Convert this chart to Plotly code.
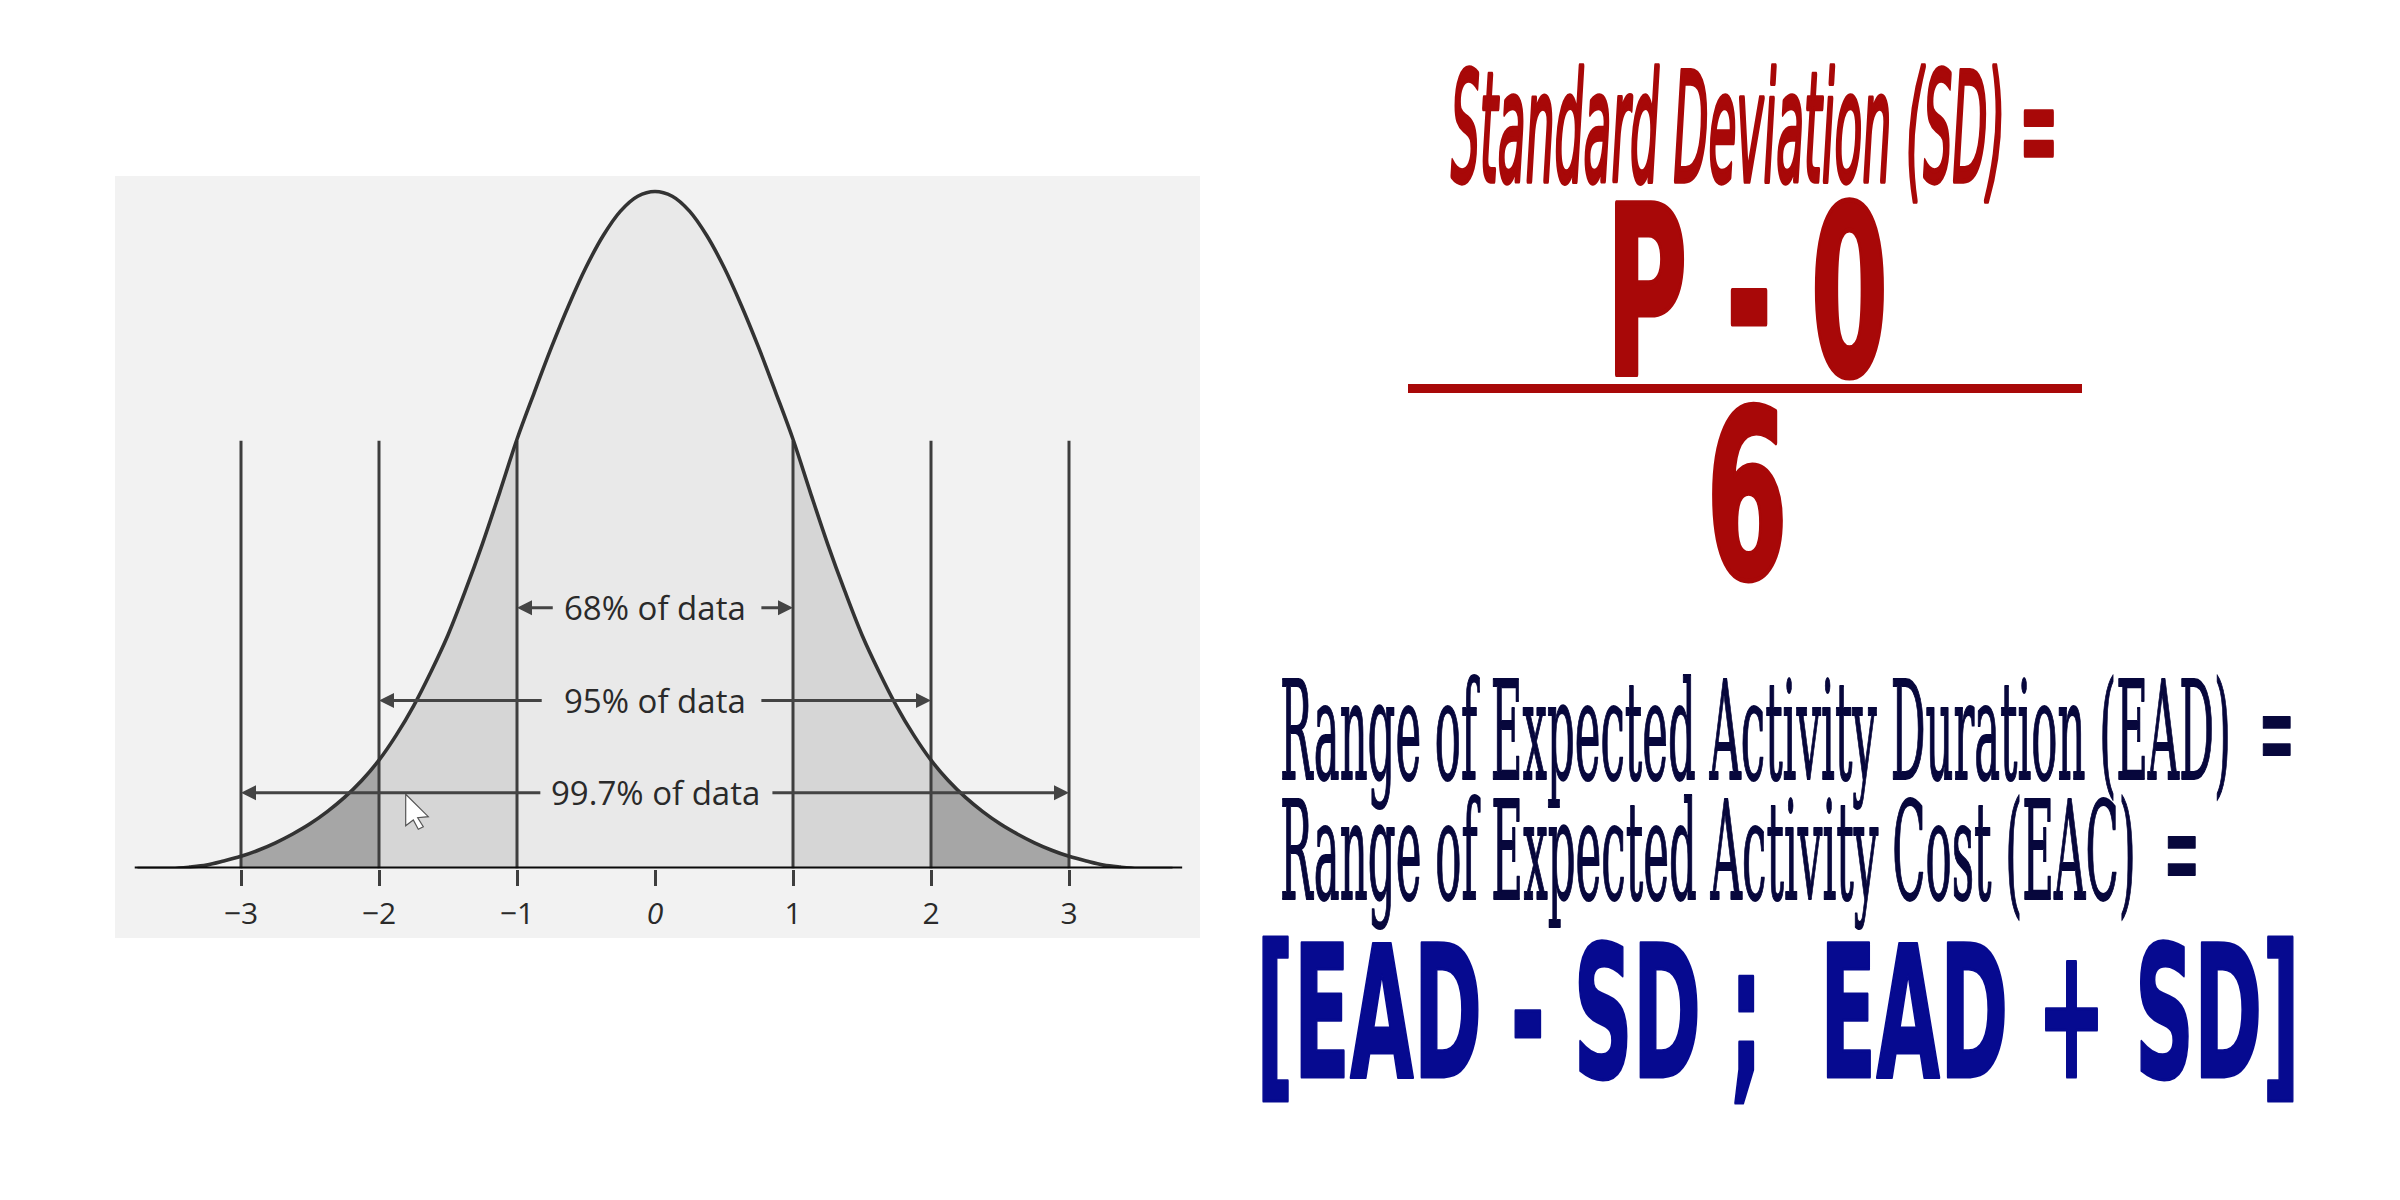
import json
import plotly.graph_objects as go

W, H = 2400, 1200

# Curve (height relative to the peak)
curve_x = [-3.75, -3.625, -3.5, -3.375, -3.25, -3.125, -3, -2.875, -2.75, -2.625, -2.5, -2.375, -2.25, -2.125, -2,
           -1.875, -1.75, -1.625, -1.5, -1.375, -1.25, -1.125, -1, -0.875, -0.75, -0.625, -0.5, -0.375, -0.25, -0.125, 0,
           0.125, 0.25, 0.375, 0.5, 0.625, 0.75, 0.875, 1, 1.125, 1.25, 1.375, 1.5, 1.625, 1.75, 1.875, 2,
           2.125, 2.25, 2.375, 2.5, 2.625, 2.75, 2.875, 3, 3.125, 3.25, 3.375, 3.5, 3.625, 3.75]
curve_y = [0, 0, 0, 0.002, 0.005, 0.011, 0.018, 0.027, 0.038, 0.051, 0.066, 0.084, 0.105, 0.13, 0.16,
           0.197, 0.24, 0.29, 0.345, 0.41, 0.48, 0.556, 0.634, 0.703, 0.77, 0.832, 0.888, 0.935, 0.971, 0.993, 1,
           0.993, 0.971, 0.935, 0.888, 0.832, 0.77, 0.703, 0.634, 0.556, 0.48, 0.41, 0.345, 0.29, 0.24, 0.197, 0.16,
           0.13, 0.105, 0.084, 0.066, 0.051, 0.038, 0.027, 0.018, 0.011, 0.005, 0.002, 0, 0, 0]
sd_marks = [-3, -2, -1, 1, 2, 3]
sd_line_top = 0.632
tick_vals = [-3, -2, -1, 0, 1, 2, 3]
tick_text = ["−3", "−2", "−1", "<i>0</i>", "1", "2", "3"]
band_labels = ["68% of data", "95% of data", "99.7% of data"]
band_levels = [0.385, 0.248, 0.112]
band_limits = [1, 2, 3]
band_gap_left = [-0.73, -0.81, -0.82]
band_gap_right = [0.76, 0.76, 0.84]

title_text = "Standard Deviation (SD) ="
numerator = "P - 0"
denominator = "6"
range_lines = ["Range of Expected Activity Duration (EAD)  =", "Range of Expected Activity Cost (EAC)  ="]
result_text = "[EAD - SD ;  EAD + SD]"

# Plot area in page pixels
PX0, PX1, PY_TOP, PY_BASE = 115, 1200, 176, 868.5
UNIT, ZERO_PX, PEAK_PX = 138, 655, 677
xr = [(PX0 - ZERO_PX) / UNIT, (PX1 - ZERO_PX) / UNIT]
yr = [0, (PY_BASE - PY_TOP) / PEAK_PX]

def px(x): return x / W
def py(y): return 1 - y / H

fig = go.Figure()

def band(lo, hi, color):
    xs = [a for a in curve_x if lo <= a <= hi]
    ys = [b for a, b in zip(curve_x, curve_y) if lo <= a <= hi]
    fig.add_trace(go.Scatter(x=xs, y=ys, mode="lines", line=dict(width=0, shape="spline", smoothing=1),
                             fill="tozeroy", fillcolor=color, hoverinfo="skip", showlegend=False))

band(-3, -2, "#a6a6a6")
band(2, 3, "#a6a6a6")
band(-2, -1, "#d6d6d6")
band(1, 2, "#d6d6d6")
band(-1, 1, "#e9e9e9")

for m in sd_marks:
    fig.add_trace(go.Scatter(x=[m, m], y=[0, sd_line_top], mode="lines", line=dict(color="#3e3e3e", width=3),
                             hoverinfo="skip", showlegend=False))

fig.add_trace(go.Scatter(x=curve_x, y=curve_y, mode="lines",
                         line=dict(color="#333333", width=3.6, shape="spline", smoothing=1),
                         hoverinfo="skip", showlegend=False))
fig.add_trace(go.Scatter(x=[-3.77, 3.82], y=[0, 0], mode="lines", line=dict(color="#0a0a0a", width=4),
                         hoverinfo="skip", showlegend=False, cliponaxis=False))

# Text on the right; each is fitted to a box by the page script below
right_items = [
    (title_text, "DejaVu Sans", "#a80808", False, True, 1451, 2058, 71, 181, 0.729, 0.236, 1.6),
    (numerator, "DejaVu Sans", "#a80808", True, False, 1606, 1888, 203, 374, 0.729, 0.236, 2.4),
    (denominator, "DejaVu Sans", "#a80808", True, False, 1706, 1788, 406, 577, 0.729, 0.236, 2.4),
    (range_lines[0], "DejaVu Serif", "#07073c", False, False, 1280, 2295, 679, 779, 0.729, 0.236, 0.6),
    (range_lines[1], "DejaVu Serif", "#07073c", False, False, 1280, 2200, 799, 899, 0.729, 0.236, 0.6),
    (result_text, "DejaVu Sans", "#060a90", True, False, 1256, 2300, 943, 1077, 0.729, 0.236, 1.4),
]
BASE_FS = 60
anns = []
fits = []
for i, (t, fam, col, b, it, x0, x1, top, base, cap, desc, sw) in enumerate(right_items):
    s = t.replace("  ", "\u00a0\u00a0")
    if b: s = f"<b>{s}</b>"
    if it: s = f"<i>{s}</i>"
    anns.append(dict(xref="paper", yref="paper", x=px((x0 + x1) / 2), y=py((top + base) / 2), text=s, showarrow=False,
                     font=dict(family=fam, size=BASE_FS, color=col)))
    fits.append(dict(i=i, x0=x0, x1=x1, top=top, base=base, cap=cap, desc=desc, sw=sw, col=col))

# Band labels and arrows
for lab, lev, lim, gl, gr in zip(band_labels, band_levels, band_limits, band_gap_left, band_gap_right):
    anns.append(dict(x=0, y=lev, xref="x", yref="y", text=lab, showarrow=False,
                     font=dict(family="Open Sans", size=33, color="#2a2a2a")))
    for tail, head in ((gl, -lim), (gr, lim)):
        anns.append(dict(x=head, y=lev, ax=tail, ay=lev, xref="x", yref="y", axref="x", ayref="y", text="",
                         showarrow=True, arrowhead=2, arrowsize=1, arrowwidth=3, arrowcolor="#444444"))

# Mouse pointer left in the picture
cur = [(405.7, 794.3), (405.7, 825.7), (413.3, 820), (418.3, 829.3), (423.3, 826.7), (417.7, 817.7), (428.3, 816.7)]
cur_path = "M " + " L ".join(f"{px(a):.5f},{py(b):.5f}" for a, b in cur) + " Z"

shapes = [
    dict(type="rect", xref="paper", yref="paper", x0=px(PX0), x1=px(PX1), y0=py(938), y1=py(PY_TOP),
         fillcolor="#f2f2f2", line=dict(width=0), layer="below"),
    dict(type="rect", xref="paper", yref="paper", x0=px(1408), x1=px(2082), y0=py(393), y1=py(384),
         fillcolor="#a80808", line=dict(width=0), layer="above"),
    dict(type="path", xref="paper", yref="paper", path=cur_path, fillcolor="#ffffff",
         line=dict(color="#555555", width=1.2), layer="above"),
]

fig.update_layout(
    width=W, height=H, autosize=False, margin=dict(l=0, r=0, t=0, b=0),
    paper_bgcolor="#ffffff", plot_bgcolor="rgba(0,0,0,0)", showlegend=False,
    xaxis=dict(domain=[px(PX0), px(PX1)], range=xr, tickmode="array", tickvals=tick_vals, ticktext=tick_text,
               ticks="outside", ticklen=16, tickwidth=3, tickcolor="#3e3e3e", showgrid=False, zeroline=False,
               showline=False, tickfont=dict(family="Open Sans", size=30, color="#2a2a2a"), ticklabelstandoff=2),
    yaxis=dict(domain=[py(PY_BASE), py(PY_TOP)], range=yr, visible=False),
    annotations=anns, shapes=shapes,
)

post = """
document.body.style.margin='0';
var fits=%s, fs=%d;
var gd=document.getElementById('{plot_id}');
var top0=gd.querySelector('svg.main-svg').getBoundingClientRect();
fits.forEach(function(f){
  var g=gd.querySelector('.annotation[data-index="'+f.i+'"]');
  if(!g) return;
  var te=g.querySelector('text');
  var t=te.getBoundingClientRect();
  var sx=(f.x1-f.x0)/t.width, sy=(f.base-f.top)/(f.cap*fs);
  var left=t.left-top0.left, base=t.bottom-top0.top-f.desc*fs;
  var tx=f.x0-sx*left, ty=f.base-sy*base;
  g.setAttribute('transform','translate('+tx+','+ty+') scale('+sx+','+sy+')');
  te.style.stroke=f.col;
  te.style.strokeWidth=(f.sw/sx)+'px';
  te.style.strokeLinejoin='round';
});
""" % (json.dumps(fits), BASE_FS)

fig.write_html("out.html", post_script=post, config={"displayModeBar": False})
